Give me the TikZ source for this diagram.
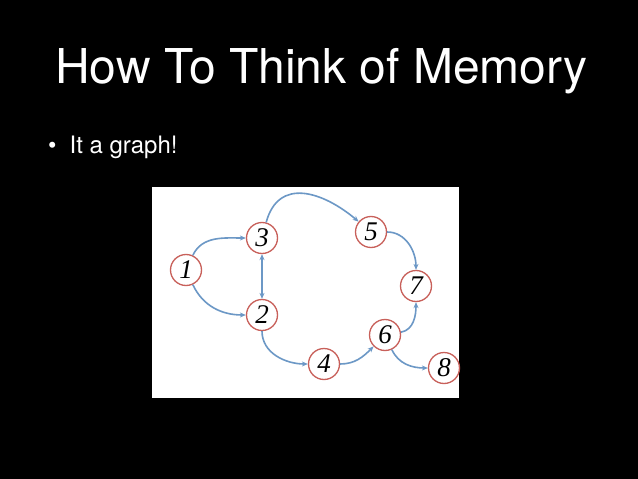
\documentclass[tikz,border=0pt]{standalone}
\usepackage{fontspec}
\setmainfont{TeX Gyre Heros}
\newfontfamily\digitfont{Liberation Serif}
\usetikzlibrary{arrows.meta}
\definecolor{ringred}{HTML}{C8605A}
\definecolor{edgeblue}{HTML}{6C98C6}
\begin{document}
\begin{tikzpicture}[x=1pt,y=1pt,
  vertex/.style={draw=ringred, line width=1.3pt, circle, fill=white, minimum size=31pt, inner sep=0pt, font=\digitfont\itshape\fontsize{27}{27}\selectfont},
  link/.style={draw=edgeblue, line width=1.6pt, -{Stealth[length=6pt,width=5pt]}}]
\useasboundingbox[fill=black] (0,0) rectangle (638,-479);
\node[anchor=base west, text=white, inner sep=0pt, font=\fontsize{48}{48}\selectfont] (title) at (55,-83) {How To Think of Memory};
\node[anchor=base west, text=white, inner sep=0pt, font=\fontsize{24}{24}\selectfont] (point) at (48,-153) {\textbullet\hspace{13pt}It a graph!};
\fill[white] (152,-187) rectangle (459,-398);

\node[vertex] (1) at (186,-270) {1};
\node[vertex] (3) at (262,-238) {3};
\node[vertex] (2) at (262,-315) {2};
\node[vertex] (5) at (371,-232) {5};
\node[vertex] (7) at (416,-286) {7};
\node[vertex] (6) at (385,-335) {6};
\node[vertex] (4) at (324,-364) {4};
\node[vertex] (8) at (444,-368) {8};

\path[link] (1) to[out=65,in=180] (3);
\path[link] (1) to[out=-65,in=180] (2);
\path[link,{Stealth[length=6pt,width=5pt]}-{Stealth[length=6pt,width=5pt]}] (3) -- (2);
\path[link] (3) to[out=75,in=140,looseness=1.3] (5);
\path[link] (5) to[out=0,in=90] (7);
\path[link] (6) to[out=10,in=-90] (7);
\path[link] (2) to[out=-90,in=180] (4);
\path[link] (4) to[out=0,in=-135] (6);
\path[link] (6) to[out=-65,in=180] (8);
\end{tikzpicture}
\end{document}
